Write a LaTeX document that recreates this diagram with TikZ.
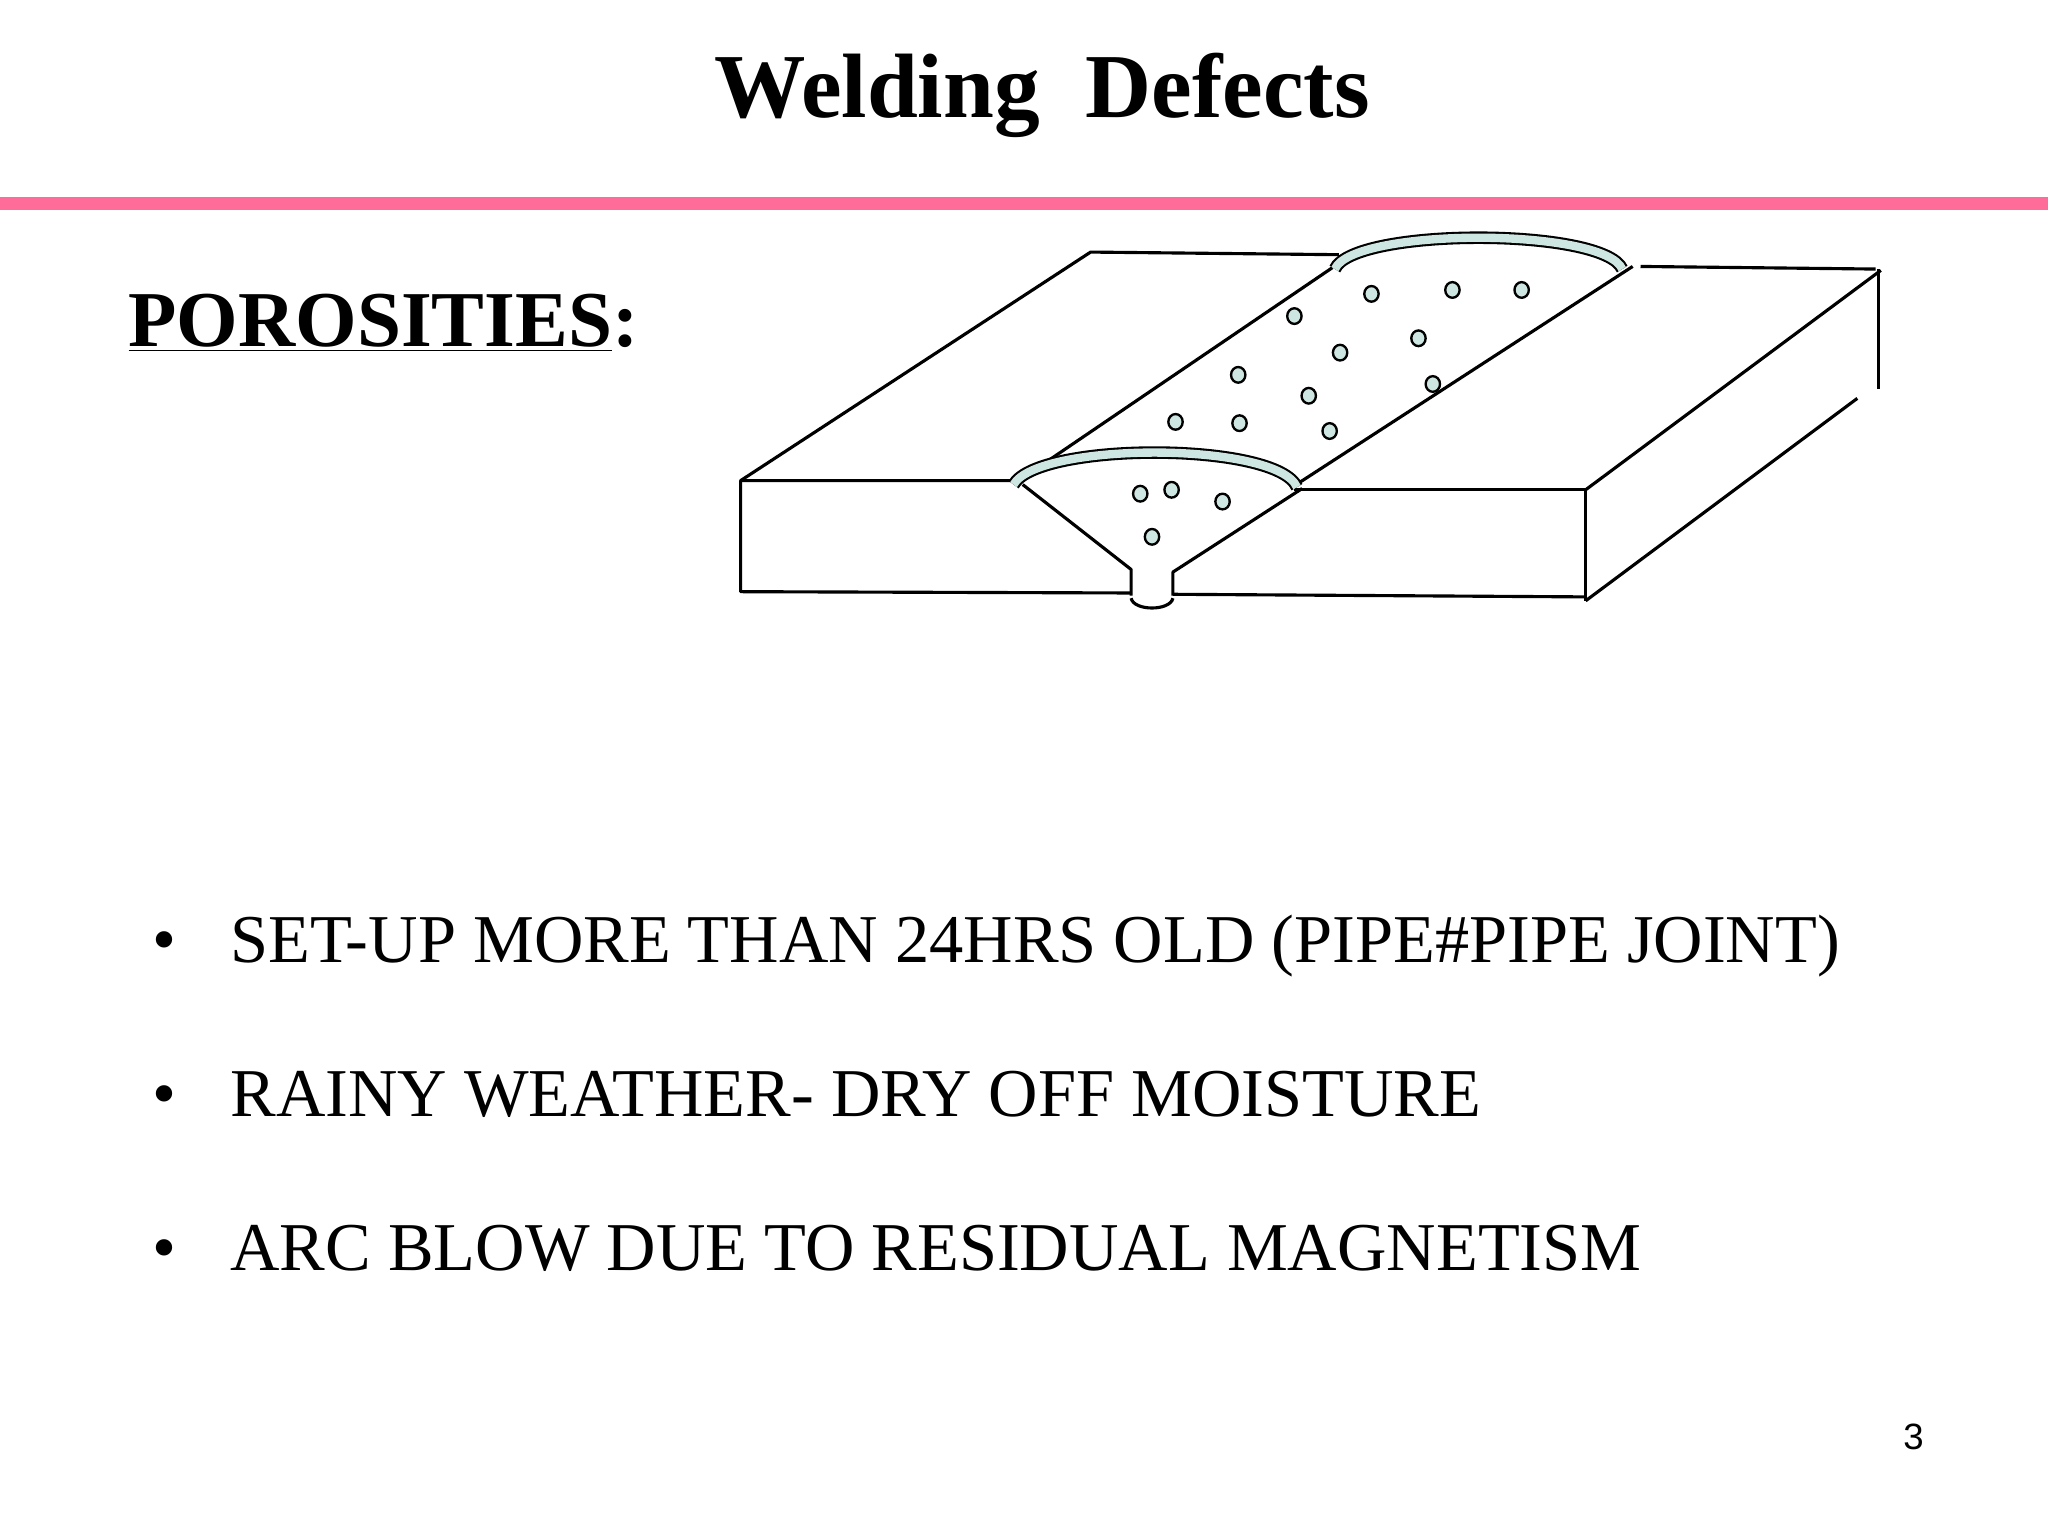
\documentclass[tikz,border=0pt]{standalone}
\usepackage{fontspec}
\setmainfont{Liberation Serif}
\newfontfamily\pgsans{Liberation Sans}
\definecolor{pinkline}{HTML}{FF6C99}
\definecolor{pore}{HTML}{CDE6E2}
\begin{document}
\begin{tikzpicture}[x=0.5pt,y=-0.5pt,
  edge/.style={line width=1.2pt,black,line join=round},
  band/.style={draw=black,line width=0.8pt,double=pore,double distance=3.2pt},
  poredot/.style={draw=black,line width=0.9pt,fill=pore},
  bul/.style={anchor=base west,font=\fontsize{26.2}{30}\selectfont,inner sep=0}]
\useasboundingbox[fill=white] (0,0) rectangle (1568,1176);
\node[anchor=base,font=\fontsize{35}{40}\selectfont\bfseries,inner sep=0] (title) at (798,90) {Welding\ \ Defects};
\fill[pinkline] (0,151) rectangle (1568,161);
\node[anchor=base west,font=\fontsize{30.3}{34}\selectfont\bfseries,inner sep=0] (por) at (98,265) {\underline{POROSITIES}:};
% left block
\draw[edge] (775,368) -- (567,368) -- (835,193) -- (1025,195);
\draw[edge] (567,368) -- (567,453) -- (866,454);
\draw[edge] (1020,205) -- (780,368);
% groove V and root
\draw[edge] (783,371) -- (866,436) -- (866,456);
\draw[edge] (866,458) .. controls (868,468) and (896,468) .. (898,458);
\draw[edge] (898,456) -- (898,438) -- (997,374);
% right block
\draw[edge] (991,375) -- (1214,375) -- (1214,460);
\draw[edge] (898,455) -- (1214,457);
\draw[edge] (1214,375) -- (1440,207);
\draw[edge] (1214,460) -- (1422,305);
\draw[edge] (1256,204) -- (1436,206);
\draw[edge] (1438,206) -- (1438,298);
\draw[edge] (1250,204) -- (994,370);
% weld crowns
\draw[band] (776,371) .. controls (795,338) and (978,338) .. (993,373);
\draw[band] (1022,206) .. controls (1036,174) and (1228,174) .. (1242,206);
% pores
\foreach \px/\py in {1050/225,1112/222,1165/222,991/242,1086/259,1026/270,948/287,1097/294,1002/303,900/323,949/324,1018/330,873/378,897/375,936/384,882/411}
  \draw[poredot] (\px,\py) ellipse (5.5 and 6);
% bullets
\node[bul] (b1) at (116,737) {•};
\node[bul] (t1) at (176,737) {SET-UP MORE THAN 24HRS OLD (PIPE\#PIPE JOINT)};
\node[bul] (b2) at (116,855) {•};
\node[bul] (t2) at (176,855) {RAINY WEATHER- DRY OFF MOISTURE};
\node[bul] (b3) at (116,973) {•};
\node[bul] (t3) at (176,973) {ARC BLOW DUE TO RESIDUAL MAGNETISM};
\node[anchor=base,font=\pgsans\fontsize{14}{16}\selectfont,inner sep=0] (pg) at (1465,1110) {3};
\end{tikzpicture}
\end{document}
